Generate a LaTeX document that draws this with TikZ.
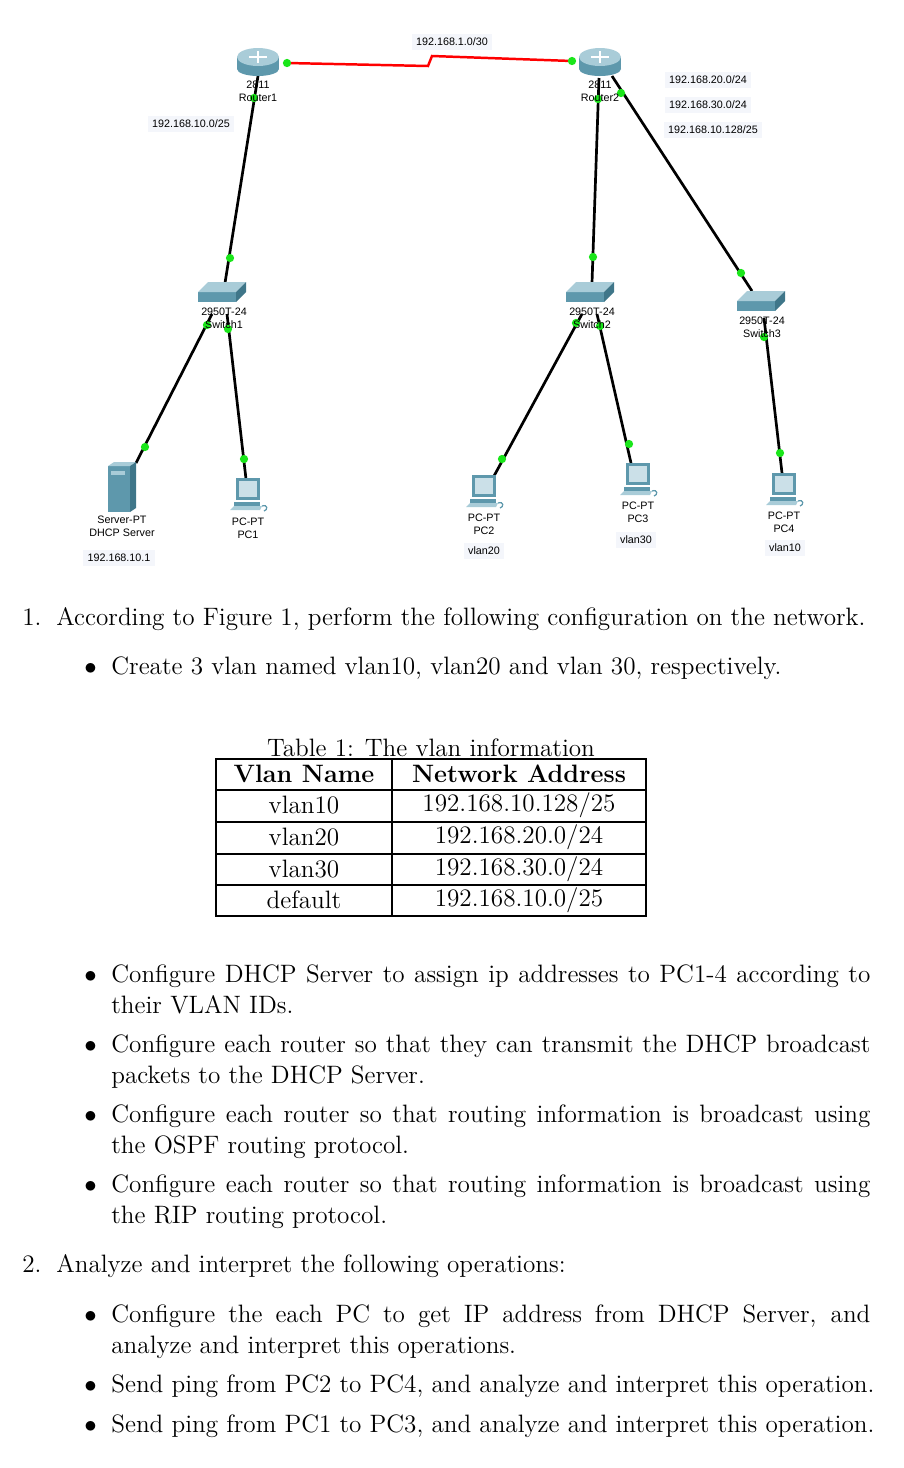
\documentclass[tikz,border=0pt]{standalone}
\usepackage{fontspec}
\newfontfamily\ptfont{Liberation Sans}
\usetikzlibrary{positioning}
\definecolor{tagbg}{HTML}{F4F6FB}
\definecolor{devtop}{HTML}{A9CCD8}
\definecolor{devside}{HTML}{5E98AC}
\definecolor{devdark}{HTML}{3F7689}
\definecolor{portgreen}{HTML}{1AE61A}
\newcommand{\bodyfont}{\fontsize{12.15}{14.8}\selectfont\hyphenpenalty=10000 }
\tikzset{
  lbl/.style={font=\ptfont\fontsize{5.2}{6.2}\selectfont, inner sep=0.5pt, align=center},
  tag/.style={lbl, fill=tagbg, inner sep=2pt},
  link/.style={line width=1.3pt, black},
  serial/.style={line width=1.2pt, red},
  port/.style={circle, fill=portgreen, inner sep=0pt, minimum size=4pt},
  body/.style={font=\bodyfont, anchor=north west, inner sep=0pt, text width=366.6pt, align=justify},
  item/.style={font=\bodyfont, anchor=north west, inner sep=0pt},
  cell/.style={font=\bodyfont, inner sep=0pt}
}
\newcommand{\router}[1]{%
  \begin{scope}[shift={(#1)}]
    \fill[devside] (-21,-5) rectangle (21,7);
    \fill[devside] (0,7) ellipse (21 and 7);
    \fill[devtop] (0,-5) ellipse (21 and 9);
    \draw[white, line width=0.6pt] (-9,-5) -- (9,-5) (0,-11) -- (0,1);
  \end{scope}}
\newcommand{\switchbox}[1]{%
  \begin{scope}[shift={(#1)}]
    \fill[devside] (-24,-2) rectangle (14,8);
    \fill[devtop] (-24,-2) -- (-14,-12) -- (24,-12) -- (14,-2) -- cycle;
    \fill[devdark] (14,-2) -- (24,-12) -- (24,-2) -- (14,8) -- cycle;
  \end{scope}}
\newcommand{\pcbox}[1]{%
  \begin{scope}[shift={(#1)}]
    \fill[devside] (-12,-18) rectangle (12,4);
    \fill[devtop!60!white] (-9,-15) rectangle (9,1);
    \fill[devside] (-14,6) rectangle (12,10);
    \fill[devtop] (-18,14) -- (-14,10) -- (14,10) -- (12,14) -- cycle;
    \draw[devside, line width=0.6pt] (14,10) .. controls (20,8) and (20,14) .. (16,15);
  \end{scope}}
\newcommand{\serverbox}[1]{%
  \begin{scope}[shift={(#1)}]
    \fill[devside] (-14,-22) rectangle (8,24);
    \fill[devtop] (-14,-22) -- (-8,-26) -- (14,-26) -- (8,-22) -- cycle;
    \fill[devdark] (8,-22) -- (14,-26) -- (14,20) -- (8,24) -- cycle;
    \fill[devtop] (-11,-17) rectangle (3,-13);
  \end{scope}}
\begin{document}
\begin{tikzpicture}[x=0.483pt, y=-0.483pt]
\useasboundingbox (0,0) rectangle (904,1468);
% link ends at the devices
\coordinate (r1s) at (287,63);
\coordinate (r2s) at (572,61);
\coordinate (zig1) at (428,66);
\coordinate (zig2) at (432,56);
\coordinate (r1d) at (258,76);
\coordinate (s1u) at (225,283);
\coordinate (r2d) at (599,78);
\coordinate (s2u) at (592,283);
\coordinate (r2e) at (612,76);
\coordinate (s3u) at (752,291);
\coordinate (s1l) at (212,314);
\coordinate (srvu) at (136,463);
\coordinate (s1r) at (227,314);
\coordinate (pc1u) at (246,479);
\coordinate (s2l) at (582,314);
\coordinate (pc2u) at (494,476);
\coordinate (s2r) at (597,314);
\coordinate (pc3u) at (631,463);
\coordinate (s3d) at (764,318);
\coordinate (pc4u) at (782,473);
% links
\draw[serial] (r1s) -- (zig1) -- (zig2) -- (r2s);
\draw[link] (r1d) -- (s1u);
\draw[link] (r2d) -- (s2u);
\draw[link] (r2e) -- (s3u);
\draw[link] (s1l) -- (srvu);
\draw[link] (s1r) -- (pc1u);
\draw[link] (s2l) -- (pc2u);
\draw[link] (s2r) -- (pc3u);
\draw[link] (s3d) -- (pc4u);
% devices
\router{258,62}
\router{600,62}
\switchbox{222,294}
\switchbox{590,294}
\switchbox{761,303}
\serverbox{122,488}
\pcbox{248,496}
\pcbox{484,493}
\pcbox{638,481}
\pcbox{784,491}
% ports
\node[port] (r1a) at (r1s) {};
\node[port] (r2a) at (r2s) {};
\node[port] (r1b) at (254,98) {};
\node[port] (s1a) at (230,258) {};
\node[port] (r2b) at (598,99) {};
\node[port] (s2a) at (593,257) {};
\node[port] (r2c) at (621,93) {};
\node[port] (s3a) at (741,273) {};
\node[port] (s1b) at (207,325) {};
\node[port] (srv) at (145,447) {};
\node[port] (s1c) at (228,329) {};
\node[port] (pc1) at (244,459) {};
\node[port] (s2b) at (576,323) {};
\node[port] (pc2) at (502,459) {};
\node[port] (s2c) at (600,326) {};
\node[port] (pc3) at (629,444) {};
\node[port] (s3b) at (764,337) {};
\node[port] (pc4) at (780,453) {};
% labels
\node[tag] (net1) at (452,42) {192.168.1.0/30};
\node[tag] (net10) at (191,124) {192.168.10.0/25};
\node[tag] (net20) at (708,80) {192.168.20.0/24};
\node[tag] (net30) at (708,105) {192.168.30.0/24};
\node[tag] (net128) at (713,130) {192.168.10.128/25};
\node[lbl] (lr1) at (258,91) {2811\\Router1};
\node[lbl] (lr2) at (600,91) {2811\\Router2};
\node[lbl] (ls1) at (224,318) {2950T-24\\Switch1};
\node[lbl] (ls2) at (592,318) {2950T-24\\Switch2};
\node[lbl] (ls3) at (762,327) {2950T-24\\Switch3};
\node[lbl] (lsrv) at (122,526) {Server-PT\\DHCP Server};
\node[tag] (ipsrv) at (119,558) {192.168.10.1};
\node[lbl] (lpc1) at (248,528) {PC-PT\\PC1};
\node[lbl] (lpc2) at (484,524) {PC-PT\\PC2};
\node[tag] (v20) at (484,551) {vlan20};
\node[lbl] (lpc3) at (638,512) {PC-PT\\PC3};
\node[tag] (v30) at (636,540) {vlan30};
\node[lbl] (lpc4) at (784,522) {PC-PT\\PC4};
\node[tag] (v10) at (785,548) {vlan10};
% text
\node[item] (n1) at (22,604) {\strut 1.};
\node[item] (t1) at (56,604) {\strut According to Figure 1, perform the following configuration on the network.};
\foreach \y in {653,961,1031,1101,1171,1301,1371,1411}
  \node[item] at (84,\y) {\strut$\bullet$};
\node[item] (b1) at (111,653) {\strut Create 3 vlan named vlan10, vlan20 and vlan 30, respectively.};
\node[cell] (cap) at (431,748) {Table 1: The vlan information};
\draw[line width=0.5pt] (216,759) rectangle (646,916);
\draw[line width=0.5pt] (392,759) -- (392,916);
\foreach \y in {790,822,854,885}
  \draw[line width=0.5pt] (216,\y) -- (646,\y);
\node[cell, font=\bodyfont\bfseries] at (304,774) {Vlan Name};
\node[cell, font=\bodyfont\bfseries] at (519,774) {Network Address};
\node[cell] at (304,805) {vlan10};
\node[cell] at (519,805) {192.168.10.128/25};
\node[cell] at (304,837) {vlan20};
\node[cell] at (519,837) {192.168.20.0/24};
\node[cell] at (304,869) {vlan30};
\node[cell] at (519,869) {192.168.30.0/24};
\node[cell] at (304,900) {default};
\node[cell] at (519,900) {192.168.10.0/25};
\node[body] (b2) at (111,961) {\strut Configure DHCP Server to assign ip addresses to PC1-4 according to their VLAN IDs.};
\node[body] (b3) at (111,1031) {\strut Configure each router so that they can transmit the DHCP broadcast packets to the DHCP Server.};
\node[body] (b4) at (111,1101) {\strut Configure each router so that routing information is broadcast using the OSPF routing protocol.};
\node[body] (b5) at (111,1171) {\strut Configure each router so that routing information is broadcast using the RIP routing protocol.};
\node[item] (n2) at (22,1251) {\strut 2.};
\node[item] (t2) at (56,1251) {\strut Analyze and interpret the following operations:};
\node[body] (b6) at (111,1301) {\strut Configure the each PC to get IP address from DHCP Server, and analyze and interpret this operations.};
\node[item] (b7) at (111,1371) {\strut Send ping from PC2 to PC4, and analyze and interpret this operation.};
\node[item] (b8) at (111,1411) {\strut Send ping from PC1 to PC3, and analyze and interpret this operation.};
\end{tikzpicture}
\end{document}
